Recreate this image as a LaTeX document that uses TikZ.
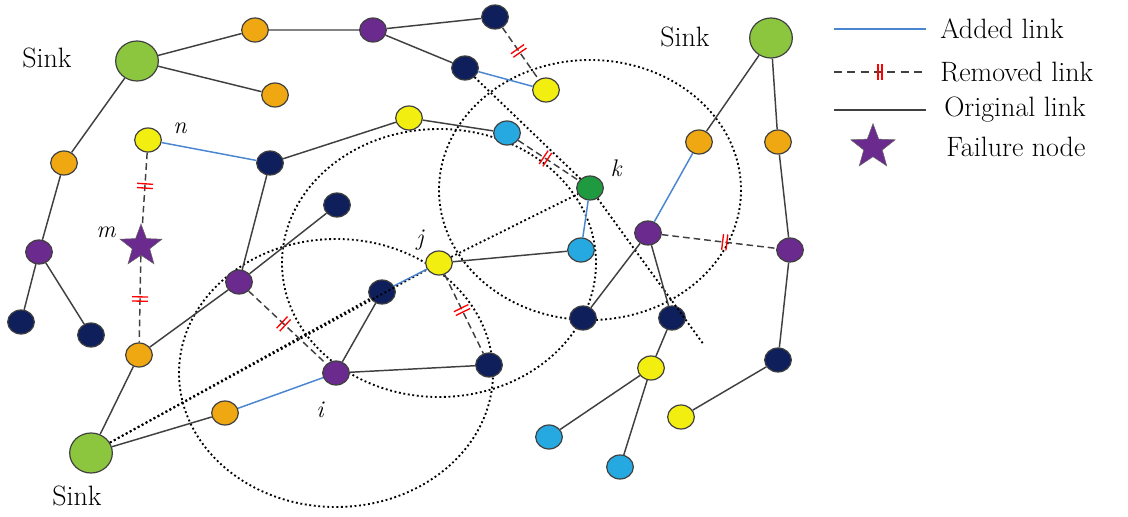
\documentclass[tikz,border=0pt]{standalone}
\usetikzlibrary{shapes.geometric}
\definecolor{cOr}{HTML}{EFA812}
\definecolor{cPu}{HTML}{6B2A8E}
\definecolor{cNv}{HTML}{0E1F5B}
\definecolor{cYe}{HTML}{F2EE10}
\definecolor{cCy}{HTML}{25A9E0}
\definecolor{cSk}{HTML}{8CC63F}
\definecolor{cGk}{HTML}{1F9A40}
\definecolor{cBl}{HTML}{4A86D0}
\newcommand{\brkmark}{\textcolor{red}{\rule[-6pt]{1pt}{12pt}\hspace{2.2pt}\rule[-6pt]{1pt}{12pt}}}
\tikzset{
 nd/.style={ellipse,draw=black!75,line width=0.9pt,minimum width=20pt,minimum height=18pt,inner sep=0},
 sk/.style={nd,fill=cSk,minimum width=32pt,minimum height=30pt},
 org/.style={nd,fill=cOr}, pur/.style={nd,fill=cPu}, nav/.style={nd,fill=cNv},
 yel/.style={nd,fill=cYe}, cya/.style={nd,fill=cCy}, grk/.style={nd,fill=cGk},
 orig/.style={draw=black!75,line width=1.1pt},
 added/.style={draw=cBl,line width=1.1pt},
 rem/.style={draw=black!75,line width=1.1pt,dash pattern=on 5pt off 3pt},
 dotl/.style={draw=black,line width=1.4pt,dotted},
 brk/.style={inner sep=0,outer sep=0},
 lab/.style={font=\fontsize{18}{20}\selectfont\itshape},
 txt/.style={font=\fontsize{21}{24}\selectfont,anchor=west,inner sep=0}
}
\begin{document}
\begin{tikzpicture}[x=0.75pt,y=-0.75pt]
\useasboundingbox (0,0) rectangle (1128,517);
\clip (0,0) rectangle (1128,517);
% range circles
\draw[dotl] (336,373) ellipse [x radius=157,y radius=134];
\draw[dotl] (439,263) ellipse [x radius=157,y radius=134];
\draw[dotl] (590,190) ellipse [x radius=151,y radius=130];
% nodes
\node[sk] (skTL) at (137,61) {};
\node[org] (o1) at (255,30) {};
\node[pur] (p1) at (373,30) {};
\node[nav] (d1) at (495,17) {};
\node[nav] (d2) at (465,68) {};
\node[org] (o2) at (275,95) {};
\node[yel] (y1) at (546,90) {};
\node[org] (oL1) at (64,163) {};
\node[pur] (pL) at (39,252) {};
\node[nav] (dL1) at (21,322) {};
\node[nav] (dL2) at (91,335) {};
\node[yel] (n) at (148,140) {};
\node[star,star points=5,star point ratio=2.4,fill=cPu,draw=black!60,minimum size=33pt,inner sep=0] (m) at (141,246) {};
\node[org] (oL2) at (139,355) {};
\node[sk] (skBL) at (91,453) {};
\node[org] (o3) at (225,413) {};
\node[pur] (i) at (336,373) {};
\node[pur] (pC) at (239,282) {};
\node[nav] (dC1) at (337,205) {};
\node[nav] (dN) at (270,163) {};
\node[yel] (yT) at (409,118) {};
\node[cya] (cT) at (507,133) {};
\node[yel] (j) at (439,263) {};
\node[nav] (dJ) at (382,292) {};
\node[nav] (dR) at (489,365) {};
\node[sk] (skR) at (771,38) {};
\node[org] (oR1) at (699,142) {};
\node[org] (oR2) at (778,142) {};
\node[grk] (k) at (590,188) {};
\node[pur] (pR1) at (648,233) {};
\node[pur] (pR2) at (790,250) {};
\node[cya] (cK) at (581,250) {};
\node[nav] (dB1) at (583,318) {};
\node[nav] (dB2) at (672,318) {};
\node[yel] (yB) at (651,368) {};
\node[nav] (dR2) at (778,360) {};
\node[yel] (yB2) at (681,417) {};
\node[cya] (cB1) at (549,437) {};
\node[cya] (cB2) at (620,467) {};
\coordinate (kend) at (704,345);
% dotted lines
\draw[dotl] (skBL) -- (j);
\draw[dotl] (skBL) -- (dJ);
\draw[dotl] (j) -- (k);
\draw[dotl] (d2) -- (k);
\draw[dotl] (k) -- (kend);
% original links
\draw[orig] (skTL)--(o1) (o1)--(p1) (p1)--(d1) (p1)--(d2) (skTL)--(o2) (skTL)--(oL1)
 (oL1)--(pL) (pL)--(dL1) (pL)--(dL2) (oL2)--(pC) (oL2)--(skBL) (skBL)--(o3)
 (pC)--(dN) (pC)--(dC1) (dN)--(yT) (yT)--(cT) (i)--(dJ) (i)--(dR) (j)--(cK)
 (skR)--(oR1) (skR)--(oR2) (oR2)--(pR2) (pR2)--(dR2) (dR2)--(yB2)
 (pR1)--(dB1) (pR1)--(dB2) (dB2)--(yB) (yB)--(cB1) (yB)--(cB2);
% added links
\draw[added] (n)--(dN) (d2)--(y1) (o3)--(i) (dJ)--(j) (k)--(cK) (oR1)--(pR1);
% removed links
\draw[rem] (d1)--(y1) node[pos=.45,sloped,brk]{\brkmark};
\draw[rem] (cT)--(k) node[pos=.45,sloped,brk]{\brkmark};
\draw[rem] (n)--(m) node[pos=.45,sloped,brk]{\brkmark};
\draw[rem] (m)--(oL2) node[pos=.5,sloped,brk]{\brkmark};
\draw[rem] (pC)--(i) node[pos=.45,sloped,brk]{\brkmark};
\draw[rem] (j)--(dR) node[pos=.45,sloped,brk]{\brkmark};
\draw[rem] (pR1)--(pR2) node[pos=.55,sloped,brk]{\brkmark};
% labels
\node[txt] (s1) at (22,58) {Sink};
\node[txt] (s2) at (52,496) {Sink};
\node[txt] (s3) at (660,37) {Sink};
\node[lab] (ln) at (180,128) {n};
\node[lab] (lm) at (106,232) {m};
\node[lab] (lj) at (420,240) {j};
\node[lab] (li) at (320,410) {i};
\node[lab] (lk) at (616,168) {k};
% legend
\coordinate (a1) at (834,29); \coordinate (a2) at (926,29);
\draw[added] (a1)--(a2);
\node[txt] (t1) at (940,29) {Added link};
\coordinate (r1) at (834,72); \coordinate (r2) at (926,72);
\draw[rem,dash pattern=on 6pt off 4pt] (r1)--(r2) node[pos=.5,brk]{\brkmark};
\node[txt] (t2) at (940,72) {Removed link};
\coordinate (g1) at (834,110); \coordinate (g2) at (926,110);
\draw[orig] (g1)--(g2);
\node[txt] (t3) at (944,110) {Original link};
\node[star,star points=5,star point ratio=2.4,fill=cPu,draw=black!60,minimum size=35pt,inner sep=0] (ls) at (873,147) {};
\node[txt] (t4) at (946,147) {Failure node};
\end{tikzpicture}
\end{document}
